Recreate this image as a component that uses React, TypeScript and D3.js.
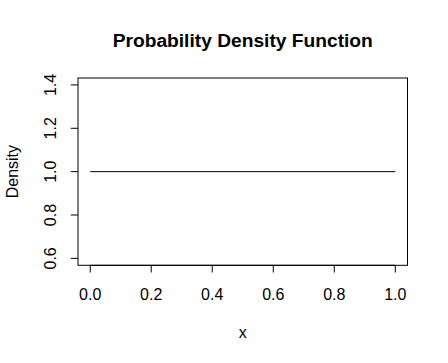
import * as d3 from 'd3';
import React from 'react';

const xTicks = [0, 0.2, 0.4, 0.6, 0.8, 1.0];
const yTicks = [0.6, 0.8, 1.0, 1.2, 1.4];
const densityX = [0, 1];
const densityY = [1, 1];
const xLim = [0, 1];
const yLim = [0.6, 1.4];

export default function App() {
  const W = 448;
  const H = 363;
  const left = 78;
  const right = 407.5;
  const top = 78;
  const bottom = 265.3;

  // R-style 4% padding on each side
  const xPad = (xLim[1] - xLim[0]) * 0.04;
  const yPad = (yLim[1] - yLim[0]) * 0.04;
  const x = d3.scaleLinear().domain([xLim[0] - xPad, xLim[1] + xPad]).range([left, right]);
  const y = d3.scaleLinear().domain([yLim[0] - yPad, yLim[1] + yPad]).range([bottom, top]);

  const pts = densityX.map((v, i) => [v, densityY[i]] as [number, number]);
  const line = d3.line<[number, number]>().x(d => x(d[0])).y(d => y(d[1]));
  const font = 'Liberation Sans, Arial, sans-serif';
  const tick = 7.2;

  return (
    <svg width={W} height={H} style={{ position: 'absolute', left: 0, top: 0 }} fontFamily={font}>
      <rect width={W} height={H} fill="#fff" />
      <text x={(left + right) / 2} y={47} textAnchor="middle" fontSize={19.2} fontWeight="bold">
        Probability Density Function
      </text>
      <rect x={left} y={top} width={right - left} height={bottom - top} fill="none" stroke="#000" strokeWidth={1} />
      <path d={line(pts) ?? ''} fill="none" stroke="#000" strokeWidth={1} />
      {/* x axis */}
      <line x1={x(xTicks[0])} x2={x(xTicks[xTicks.length - 1])} y1={bottom} y2={bottom} stroke="#000" />
      {xTicks.map(t => (
        <g key={'x' + t}>
          <line x1={x(t)} x2={x(t)} y1={bottom} y2={bottom + tick} stroke="#000" />
          <text x={x(t)} y={300} textAnchor="middle" fontSize={16}>
            {t.toFixed(1)}
          </text>
        </g>
      ))}
      {/* y axis */}
      {yTicks.map(t => (
        <g key={'y' + t}>
          <line x1={left - tick} x2={left} y1={y(t)} y2={y(t)} stroke="#000" />
          <text
            transform={`translate(56,${y(t)}) rotate(-90)`}
            textAnchor="middle"
            fontSize={16}
          >
            {t.toFixed(1)}
          </text>
        </g>
      ))}
      <text x={(left + right) / 2} y={338} textAnchor="middle" fontSize={16}>
        x
      </text>
      <text transform={`translate(17.5,${(top + bottom) / 2}) rotate(-90)`} textAnchor="middle" fontSize={16}>
        Density
      </text>
    </svg>
  );
}
